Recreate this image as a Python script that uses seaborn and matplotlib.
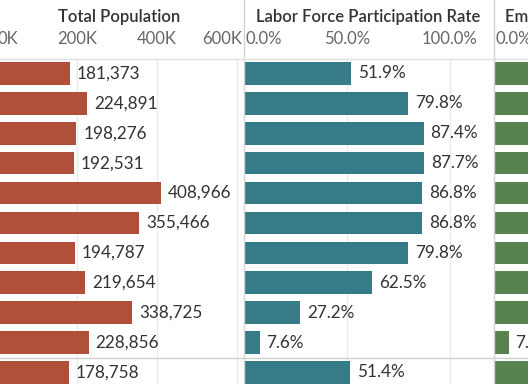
import matplotlib
matplotlib.use("Agg")
import matplotlib.pyplot as plt
import seaborn as sns
import pandas as pd

# rows (labels are not visible in the crop)
groups = ["16 to 19", "20 to 24", "25 to 29", "30 to 34", "35 to 44", "45 to 54",
          "55 to 59", "60 to 64", "65 to 74", "75 and over", "Below poverty"]
population = [181373, 224891, 198276, 192531, 408966, 355466,
              194787, 219654, 338725, 228856, 178758]
participation = [51.9, 79.8, 87.4, 87.7, 86.8, 86.8, 79.8, 62.5, 27.2, 7.6, 51.4]
employment = [45.2, 74.1, 83.0, 84.1, 83.5, 83.9, 76.8, 60.1, 26.3, 7.1, 44.0]

pop_ticks = [0, 200000, 400000, 600000]
pop_tick_labels = ["0K", "200K", "400K", "600K"]
pct_ticks = [0, 50, 100]
pct_tick_labels = ["0.0%", "50.0%", "100.0%"]

df = pd.DataFrame({"group": groups, "population": population,
                   "participation": participation, "employment": employment})

sns.set_theme(style="white")
plt.rcParams["font.family"] = ["Lato", "DejaVu Sans"]

W, H = 528, 384
fig = plt.figure(figsize=(W / 100, H / 100), dpi=100)
header = 58.5
row_px = 29.9
n_visible = (H - header) / row_px


def panel(x0, x1):
    return fig.add_axes([x0 / W, 0, (x1 - x0) / W, (H - header) / H])


ax1 = panel(-3, 244)
ax2 = panel(244, 494)
ax3 = panel(494, 528)

specs = [
    (ax1, "population", "#b0503a", (0, 247 * 2500), lambda v: f"{v:,}"),
    (ax2, "participation", "#367b87", (0, 250 / 2.055), lambda v: f"{v:.1f}%"),
    (ax3, "employment", "#59834e", (0, 34 / 2.055), lambda v: f"{v:.1f}%"),
]

for ax, col, color, xlim, fmt in specs:
    sns.barplot(data=df, x=col, y="group", orient="h", color=color,
                saturation=1, width=0.755, linewidth=0, ax=ax)
    ax.set_xlim(*xlim)
    ax.set_ylim(-0.5 + n_visible, -0.5)
    for v, p in zip(df[col], ax.patches):
        y = p.get_y() + p.get_height() / 2
        ax.annotate(fmt(v), xy=(v, y), xytext=(7, 0), textcoords="offset pixels",
                    ha="left", va="center", fontsize=12.3, color="#333333",
                    annotation_clip=False)
    ax.set_xlabel("")
    ax.set_ylabel("")
    ax.tick_params(length=0, labelbottom=False, labelleft=False)
    for s in ax.spines.values():
        s.set_visible(False)
    ax.patch.set_alpha(0)

# gridlines
ax1.set_xticks(pop_ticks[1:])
ax2.set_xticks(pct_ticks[1:])
ax3.set_xticks([])
for ax in (ax1, ax2):
    ax.xaxis.grid(True, color="#ebebeb", linewidth=1)


def tick_label(ax, x, text, ha, dx=0):
    ax.annotate(text, xy=(x, 1), xycoords=("data", "axes fraction"),
                xytext=(dx, 19.5), textcoords="offset pixels", ha=ha, va="center",
                fontsize=12, color="#666666", annotation_clip=False)


tick_label(ax1, 0, pop_tick_labels[0], "left")
tick_label(ax1, pop_ticks[1], pop_tick_labels[1], "center")
tick_label(ax1, pop_ticks[2], pop_tick_labels[2], "center")
tick_label(ax1, pop_ticks[3], pop_tick_labels[3], "right", dx=5)
tick_label(ax2, 0, pct_tick_labels[0], "left", dx=1)
tick_label(ax2, pct_ticks[1], pct_tick_labels[1], "center")
tick_label(ax2, pct_ticks[2], pct_tick_labels[2], "center")
tick_label(ax3, 0, pct_tick_labels[0], "left", dx=1)

# panel titles
title_kw = dict(fontsize=12, color="#333333", fontweight="semibold", va="center")
fig.text(119 / W, 1 - 17 / H, "Total Population", ha="center", **title_kw)
fig.text(368 / W, 1 - 17 / H, "Labor Force Participation Rate", ha="center", **title_kw)
fig.text(505 / W, 1 - 17 / H, "Employment Rate", ha="left", **title_kw)

# dividers
for x in (244, 494):
    fig.add_artist(plt.Line2D([x / W, x / W], [0, 1], transform=fig.transFigure,
                              color="#d4d4d4", linewidth=1))
fig.add_artist(plt.Line2D([0, 1], [1 - header / H] * 2, transform=fig.transFigure,
                          color="#e0e0e0", linewidth=1))
sep = header + 10 * row_px
fig.add_artist(plt.Line2D([0, 1], [1 - sep / H] * 2, transform=fig.transFigure,
                          color="#d0d0d0", linewidth=1))

fig.savefig("out.png", dpi=100)
